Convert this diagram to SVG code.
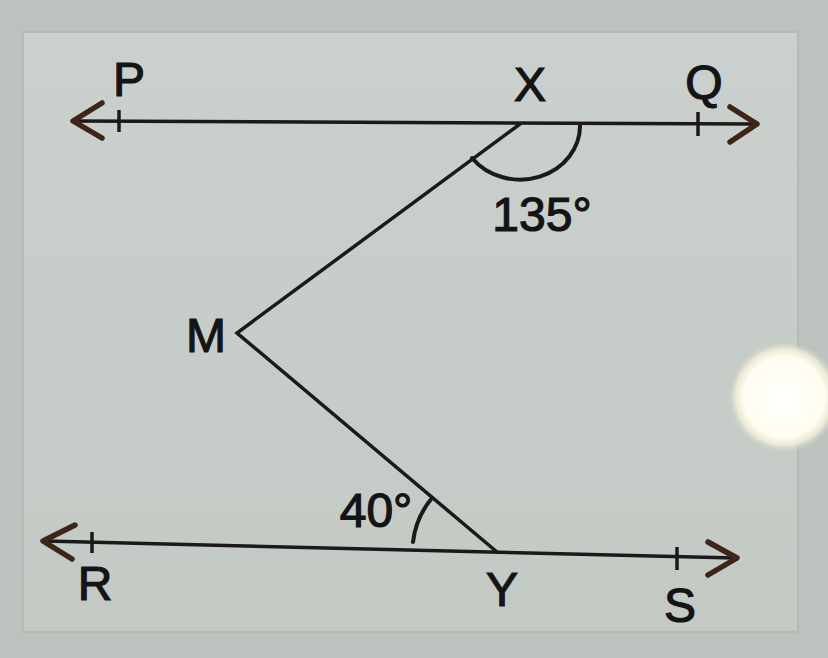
<svg xmlns="http://www.w3.org/2000/svg" width="828" height="658" viewBox="0 0 828 658">
  <defs>
    <radialGradient id="glare" cx="0.5" cy="0.5" r="0.5">
      <stop offset="0" stop-color="#ffffff"/>
      <stop offset="0.72" stop-color="#fffdf0"/>
      <stop offset="0.86" stop-color="#f4f1d6" stop-opacity="0.8"/>
      <stop offset="1" stop-color="#c8cec9" stop-opacity="0"/>
    </radialGradient>
    <linearGradient id="bg" x1="0" y1="0" x2="0" y2="1">
      <stop offset="0" stop-color="#cad0cd"/>
      <stop offset="1" stop-color="#c3cac4"/>
    </linearGradient>
  </defs>
  <style>
    .ln { stroke: #1b1a18; stroke-width: 3.5; fill: none; stroke-linecap: round; }
    .arc { stroke: #1b1a18; stroke-width: 4; fill: none; stroke-linecap: round; }
    .tick { stroke: #1b1a18; stroke-width: 3.5; }
    .head { stroke: #3f2418; stroke-width: 5.5; fill: none; stroke-linecap: round; stroke-linejoin: round; }
    .lbl { font-family: "Liberation Sans", Arial, sans-serif; font-size: 48px; fill: #141414; stroke: #141414; stroke-width: 1.2; }
  </style>

  <!-- background / photo frame -->
  <rect x="0" y="0" width="828" height="658" fill="#bcc3bf"/>
  <rect x="23" y="32" width="775" height="600" fill="url(#bg)" stroke="#b4bbb6" stroke-width="2"/>
  <circle cx="784" cy="397" r="56" fill="url(#glare)"/>

  <g id="connectors">
    <!-- line PQ -->
    <line class="ln" x1="75" y1="121" x2="755" y2="124"/>
    <polyline class="head" points="102,103 73,121 102,138"/>
    <polyline class="head" points="730,107 757,124 730,142"/>
    <!-- line RS -->
    <line class="ln" x1="45" y1="541" x2="735" y2="558"/>
    <polyline class="head" points="75,525 43,541 72,559"/>
    <polyline class="head" points="708,542 737,558 708,575"/>
    <!-- XM and MY -->
    <polyline class="ln" points="520,124 237,333 497,552"/>
    <!-- angle arcs -->
    <path class="arc" d="M 580,124 A 60 54 0 0 1 472,158"/>
    <path class="arc" d="M 413,542 A 84 84 0 0 1 432,498"/>
  </g>

  <g id="P">
    <line class="tick" x1="119" y1="110" x2="119" y2="132"/>
    <text class="lbl" x="129" y="96" text-anchor="middle">P</text>
  </g>
  <g id="Q">
    <line class="tick" x1="698" y1="112" x2="698" y2="136"/>
    <text class="lbl" x="704" y="99" text-anchor="middle">Q</text>
  </g>
  <g id="X">
    <text class="lbl" x="530" y="101" text-anchor="middle">X</text>
    <text class="lbl" x="542" y="231" text-anchor="middle">135°</text>
  </g>
  <g id="M">
    <text class="lbl" x="206" y="352" text-anchor="middle">M</text>
  </g>
  <g id="Y">
    <text class="lbl" x="502" y="606" text-anchor="middle">Y</text>
    <text class="lbl" x="376" y="527" text-anchor="middle">40°</text>
  </g>
  <g id="R">
    <line class="tick" x1="92" y1="532" x2="92" y2="553"/>
    <text class="lbl" x="95" y="600" text-anchor="middle">R</text>
  </g>
  <g id="S">
    <line class="tick" x1="677" y1="547" x2="677" y2="570"/>
    <text class="lbl" x="680" y="622" text-anchor="middle">S</text>
  </g>
</svg>
